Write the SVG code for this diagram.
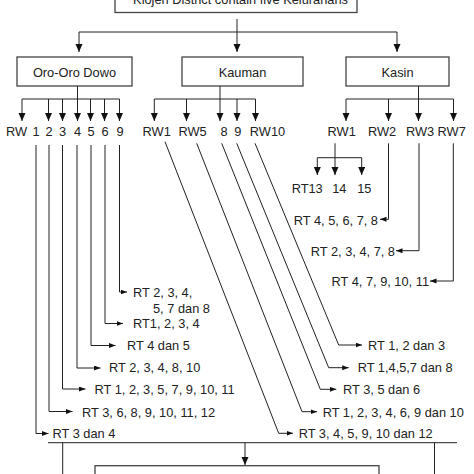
<svg xmlns="http://www.w3.org/2000/svg" width="474" height="474" viewBox="0 0 474 474">
<style>
text{font-family:"Liberation Sans",Arial,sans-serif;font-size:12.8px;fill:#222}
.m{text-anchor:middle}
.e{text-anchor:end}
.box{fill:#fff;stroke:#444;stroke-width:1.3}
.c path{fill:none;stroke:#222;stroke-width:1}
.a{marker-end:url(#ah)}
.s{marker-end:url(#as)}
</style>
<defs>
<marker id="ah" markerUnits="userSpaceOnUse" markerWidth="8" markerHeight="8" refX="8" refY="3.5" orient="auto"><path d="M0,0 L8,3.5 L0,7 z" fill="#111"/></marker>
<marker id="as" markerUnits="userSpaceOnUse" markerWidth="7" markerHeight="6" refX="6.5" refY="2.5" orient="auto"><path d="M0,0 L6.5,2.5 L0,5 z" fill="#111"/></marker>
</defs>
<rect width="474" height="474" fill="#fff"/>
<g id="top">
<rect class="box" x="115" y="-20" width="242" height="32.5"/>
<text class="m" x="240.5" y="3.5">Klojen District contain five Kelurahans</text>
</g>
<g id="oro">
<rect class="box" x="17" y="57" width="115" height="29"/>
<text class="m" x="74.5" y="76.5">Oro-Oro Dowo</text>
</g>
<g id="kauman">
<rect class="box" x="182" y="57" width="121" height="29"/>
<text class="m" x="242.5" y="76.5">Kauman</text>
</g>
<g id="kasin">
<rect class="box" x="346" y="57" width="103" height="29"/>
<text class="m" x="397.5" y="76.5">Kasin</text>
</g>
<g id="bottom">
<rect class="box" x="95" y="465.7" width="284" height="30"/>
</g>
<g id="oro-rw">
<text class="m" x="16.5" y="135.5">RW</text>
<text class="m" x="36" y="135.5">1</text>
<text class="m" x="49" y="135.5">2</text>
<text class="m" x="62.5" y="135.5">3</text>
<text class="m" x="77.5" y="135.5">4</text>
<text class="m" x="91" y="135.5">5</text>
<text class="m" x="105" y="135.5">6</text>
<text class="m" x="120" y="135.5">9</text>
</g>
<g id="oro-rt">
<text x="133" y="297">RT 2, 3, 4,</text>
<text x="153" y="313">5, 7 dan 8</text>
<text x="133" y="328">RT1, 2, 3, 4</text>
<text x="127" y="350">RT 4 dan 5</text>
<text x="109" y="372">RT 2, 3, 4, 8, 10</text>
<text x="94.5" y="394">RT 1, 2, 3, 5, 7, 9, 10, 11</text>
<text x="82" y="416.5">RT 3, 6, 8, 9, 10, 11, 12</text>
<text x="52.5" y="438">RT 3 dan 4</text>
</g>
<g id="kauman-rw">
<text class="m" x="156.7" y="135.5">RW1</text>
<text class="m" x="192.5" y="135.5">RW5</text>
<text class="m" x="224" y="135.5">8</text>
<text class="m" x="237.7" y="135.5">9</text>
<text class="m" x="267.5" y="135.5">RW10</text>
</g>
<g id="kauman-rt">
<text x="368" y="350">RT 1, 2 dan 3</text>
<text x="357.7" y="372">RT 1,4,5,7 dan 8</text>
<text x="343" y="394">RT 3, 5 dan 6</text>
<text x="322.7" y="416.7">RT 1, 2, 3, 4, 6, 9 dan 10</text>
<text x="298.7" y="438">RT 3, 4, 5, 9, 10 dan 12</text>
</g>
<g id="kasin-rw">
<text class="m" x="341.7" y="135.5">RW1</text>
<text class="m" x="382" y="135.5">RW2</text>
<text class="m" x="420" y="135.5">RW3</text>
<text class="m" x="451.7" y="135.5">RW7</text>
</g>
<g id="kasin-rt">
<text class="m" x="307.2" y="193.3">RT13</text>
<text class="m" x="339.3" y="193.3">14</text>
<text class="m" x="364.3" y="193.3">15</text>
<text class="e" x="378" y="225">RT 4, 5, 6, 7, 8</text>
<text class="e" x="395" y="255.7">RT 2, 3, 4, 7, 8</text>
<text class="e" x="429" y="285.5">RT 4, 7, 9, 10, 11</text>
</g>
<g id="connectors" class="c">
<path class="a" d="M237,19 V52"/>
<path d="M79,32 H397"/>
<path class="a" d="M79,32 V52"/>
<path class="a" d="M397,32 V52"/>
<path class="a" d="M77.5,86 V121"/>
<path d="M22,99 H119.5"/>
<path class="a" d="M22,99 V121"/>
<path class="a" d="M48.5,99 V121"/>
<path class="a" d="M62.5,99 V121"/>
<path class="a" d="M90.5,99 V121"/>
<path class="a" d="M104.5,99 V121"/>
<path class="a" d="M119.5,99 V121"/>
<path class="a" d="M220,86 V121"/>
<path d="M154.3,99 H255.5"/>
<path class="a" d="M154.3,99 V121"/>
<path class="a" d="M186.5,99 V121"/>
<path class="a" d="M237,99 V121"/>
<path class="a" d="M255.5,99 V121"/>
<path class="a" d="M418.5,86 V121"/>
<path d="M346,99 H453.5"/>
<path class="a" d="M346,99 V121"/>
<path class="a" d="M388.5,99 V121"/>
<path class="a" d="M453.5,99 V121"/>
<path class="s" d="M119.5,145 V292 H127"/>
<path class="s" d="M105,145 V323.5 H123"/>
<path class="s" d="M91,145 V345.5 H115.5"/>
<path class="s" d="M77,145 V368 H100.5"/>
<path class="s" d="M62.5,145 V389 H85.5"/>
<path class="s" d="M49,145 V411.5 H72.5"/>
<path class="s" d="M36,145 V433.5 H48.5"/>
<path class="s" d="M165,141.7 L278.7,433.3 H293"/>
<path class="s" d="M196.7,143.3 L302,411.7 H317"/>
<path class="s" d="M221.7,143.3 L320.3,389.3 H336.3"/>
<path class="s" d="M236.7,143.3 L328.7,367.7 H348.7"/>
<path class="s" d="M255,143.3 L338.7,345 H362"/>
<path class="a" d="M335,143.3 V175"/>
<path d="M317.3,157.7 H361.7"/>
<path class="a" d="M317.3,157.7 V175"/>
<path class="a" d="M361.7,157.7 V175"/>
<path class="s" d="M388.5,143.3 V219.3 H380"/>
<path class="s" d="M419,143.3 V250.7 H396"/>
<path class="s" d="M453.3,143.3 V281 H430"/>
<path d="M48,442.7 H457"/>
<path class="a" d="M245,442.7 V465"/>
<path d="M62.7,442.7 V474"/>
<path d="M434.5,442.7 V474"/>
</g>
</svg>
